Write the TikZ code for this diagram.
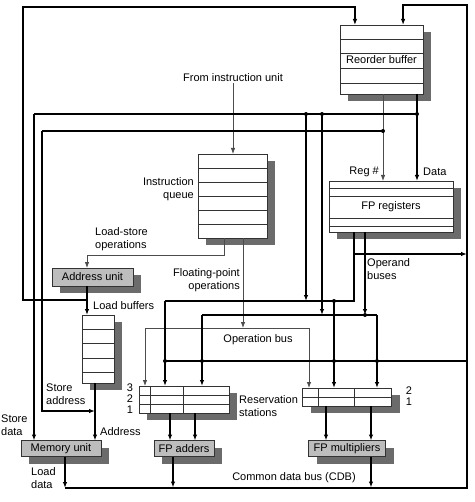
\documentclass[tikz,border=0pt]{standalone}
\usepackage{fontspec}
\setmainfont{Liberation Sans}
\usetikzlibrary{calc,shadows,arrows.meta}
\definecolor{shade}{HTML}{6B6B6B}
\definecolor{unitgray}{HTML}{BDBDBD}

\begin{document}
\begin{tikzpicture}[
  x=1pt, y=-1pt,
  every node/.style={font=\fontsize{11}{13.5}\selectfont, inner sep=1pt},
  buf/.style={draw=black!80, line width=0.7pt, fill=white, inner sep=0pt, outer sep=0pt,
    drop shadow={shadow xshift=8pt, shadow yshift=-7pt, fill=shade, opacity=1}},
  unit/.style={buf, fill=unitgray, minimum height=16pt},
  row/.style={black!80, line width=0.6pt},
  bus/.style={line width=1.6pt},
  op/.style={line width=0.8pt, black!70},
  >={Latex[length=6pt,width=4.5pt]}
  ]
\useasboundingbox (0,0) rectangle (474,502);

% buffers and units
\node[buf, minimum width=83pt, minimum height=69pt] (rob) at (381.5,59.5) {Reorder buffer};
\node[buf, minimum width=69pt, minimum height=84pt] (iq) at (232.5,196) {};
\node[buf, minimum width=124pt, minimum height=51pt] (fpr) at (391,206.5) {FP registers};
\node[buf, minimum width=32pt, minimum height=68pt] (lb) at (98,349) {};
\node[buf, minimum width=90pt, minimum height=27pt] (rs1) at (184,399.5) {};
\node[buf, minimum width=89pt, minimum height=18pt] (rs2) at (347,397) {};
\node[unit, minimum width=81pt, minimum height=18pt] (au) at (92.5,277) {Address unit};
\node[unit, minimum width=80pt] (mu) at (61,448.5) {Memory unit};
\node[unit, minimum width=60pt] (fpa) at (184,448.5) {FP adders};
\node[unit, minimum width=77pt] (fpm) at (347,448.5) {FP multipliers};

% rows of the buffers
\foreach \f in {0.203,0.406,0.623,0.841}
  \draw[row] ($(rob.north west)!\f!(rob.south west)$) -- ($(rob.north east)!\f!(rob.south east)$);
\foreach \f in {1,...,5}
  \draw[row] ($(iq.north west)!{\f/6}!(iq.south west)$) -- ($(iq.north east)!{\f/6}!(iq.south east)$);
\foreach \f in {0.137,0.294,0.725,0.882}
  \draw[row] ($(fpr.north west)!\f!(fpr.south west)$) -- ($(fpr.north east)!\f!(fpr.south east)$);
\foreach \f in {0.206,0.412,0.632,0.838}
  \draw[row] ($(lb.north west)!\f!(lb.south west)$) -- ($(lb.north east)!\f!(lb.south east)$);
\foreach \f in {0.333,0.667}
  \draw[row] ($(rs1.north west)!\f!(rs1.south west)$) -- ($(rs1.north east)!\f!(rs1.south east)$);
\foreach \f in {0.122,0.489}
  \draw[row] ($(rs1.north west)!\f!(rs1.north east)$) -- ($(rs1.south west)!\f!(rs1.south east)$);
\draw[row] (rs2.west) -- (rs2.east);
\foreach \f in {0.174,0.579}
  \draw[row] ($(rs2.north west)!\f!(rs2.north east)$) -- ($(rs2.south west)!\f!(rs2.south east)$);

% labels
\node (iu) at (233,78) {From instruction unit};
\node[anchor=east, align=right] (iql) at (195,189) {Instruction\\queue};
\node[anchor=east] (regl) at (380,172) {Reg \#};
\node[anchor=west] (datal) at (422,172) {Data};
\node[anchor=west, align=left] (lsl) at (94,239) {Load-store\\operations};
\node[anchor=east, align=right] (fpl) at (241,280) {Floating-point\\operations};
\node[anchor=west] (ldb) at (92,306) {Load buffers};
\node[anchor=west, align=left] (opl) at (366,269) {Operand\\buses};
\node (obl) at (258,340) {Operation bus};
\node[anchor=west, align=left] (sal) at (45,394) {Store\\address};
\node[anchor=west, align=left] (sdl) at (0,425) {Store\\data};
\node[anchor=west] (adl) at (99,432) {Address};
\node[anchor=west, align=left] (ldl) at (30,478) {Load\\data};
\node[anchor=west, align=left] (rsl) at (238,406) {Reservation\\stations};
\node (cdbl) at (294,478) {Common data bus (CDB)};
\foreach \n/\y in {3/388,2/399,1/410} \node (a\n) at (130,\y) {\n};
\foreach \n/\y in {2/391,1/402} \node (m\n) at (409,\y) {\n};

% bends and junctions
\coordinate (tl) at (23,7);
\coordinate (tr) at (467,5);
\coordinate (ldj) at (87,300);
\coordinate (cdbL) at (65,488);
\coordinate (cdbR) at (467,488);
\coordinate (dL) at (34,114);
\coordinate (dj) at (417,114);
\coordinate (rL) at (42,131);
\coordinate (rj) at (383,131);
\coordinate (sa) at (42,411);
\coordinate (lbo) at (95,383);
\coordinate (d1) at (306,114);
\coordinate (d2) at (322,114);
\coordinate (bA) at (165,301);
\coordinate (fA) at (354,301);
\coordinate (bB) at (202,315);
\coordinate (fB) at (377,315);
\coordinate (fo) at (365,315);
\coordinate (mA) at (334,301);
\coordinate (cA) at (165,361);
\coordinate (c2) at (202,361);
\coordinate (c3) at (334,361);
\coordinate (c4) at (377,361);
\coordinate (cR) at (467,361);
\coordinate (opd) at (354,254);
\coordinate (ls) at (224,255);
\coordinate (ob) at (145,328);
\coordinate (obR) at (309,328);
\coordinate (fpo) at (243,328);

% instruction paths
\draw[op,->] (iu.south) -- (iq.north -| iu.south);
\draw[op,->] (iq.south -| ls) -- (ls) -| (au.north -| ldj);
\draw[op,->] (iq.south -| fpo) -- (fpo);
\draw[op,<->] (rs1.north -| ob) -- (ob) -- (obR) -- (rs2.north -| obR);

% addresses
\draw[bus,->] (au.south -| ldj) -- (lb.north -| ldj);
\draw[bus,->] (ldj) -| (tl) -| ($(rob.north west)!0.18!(rob.north east)$);
\draw[bus,->] (lbo) -- (mu.north -| lbo);

% reorder buffer outputs
\draw[bus,->] (rob.south -| dj) -- (fpr.north -| dj);
\draw[op,->] (rob.south -| rj) -- (fpr.north -| rj);
\draw[bus] (dL) -- (dj);
\draw[bus] (rL) -- (rj);
\draw[bus,->] (dL) -- (mu.north -| dL);
\draw[bus,->] (rL) -- (sa) -- (sa -| lbo);
\draw[bus,->] (d1) -- (d1 |- bA);
\draw[bus,->] (d2) -- (d2 |- bB);

% operand buses
\draw[bus] (fpr.south -| fA) -- (fA) -- (bA);
\draw[bus,->] (fpr.south -| fo) -- (fo);
\draw[bus,->] (opd) -- (opd -| cR);
\draw[bus] (bB) -- (fB);
\draw[bus,->] (bA) -- (rs1.north -| bA);
\draw[bus,->] (bB) -- (rs1.north -| bB);
\draw[bus,->] (mA) -- (rs2.north -| mA);
\draw[bus,->] (fB) -- (rs2.north -| fB);
\draw[bus] (cA) -- (cR);

% stations to units
\foreach \dx in {-14,11}
  \draw[bus,->] ([xshift=\dx pt]rs1.south) -- ([xshift=\dx pt]fpa.north);
\foreach \dx in {-21,24}
  \draw[bus,->] ([xshift=\dx pt]rs2.south) -- ([xshift=\dx pt]fpm.north);

% common data bus
\draw[bus,->] ([xshift=4pt]mu.south) -- (cdbL);
\draw[bus,->] ([xshift=-11pt]fpa.south) -- ++(0,31);
\draw[bus,->] ([xshift=24pt]fpm.south) -- ++(0,31);
\draw[bus,->] (cdbL) -- (cdbR) -- (tr) -| ($(rob.north west)!0.76!(rob.north east)$);

\foreach \p in {dj,rj,d1,d2,mA,fo,cA,c2,c3,c4}
  \fill (\p) circle (2pt);
\end{tikzpicture}
\end{document}
